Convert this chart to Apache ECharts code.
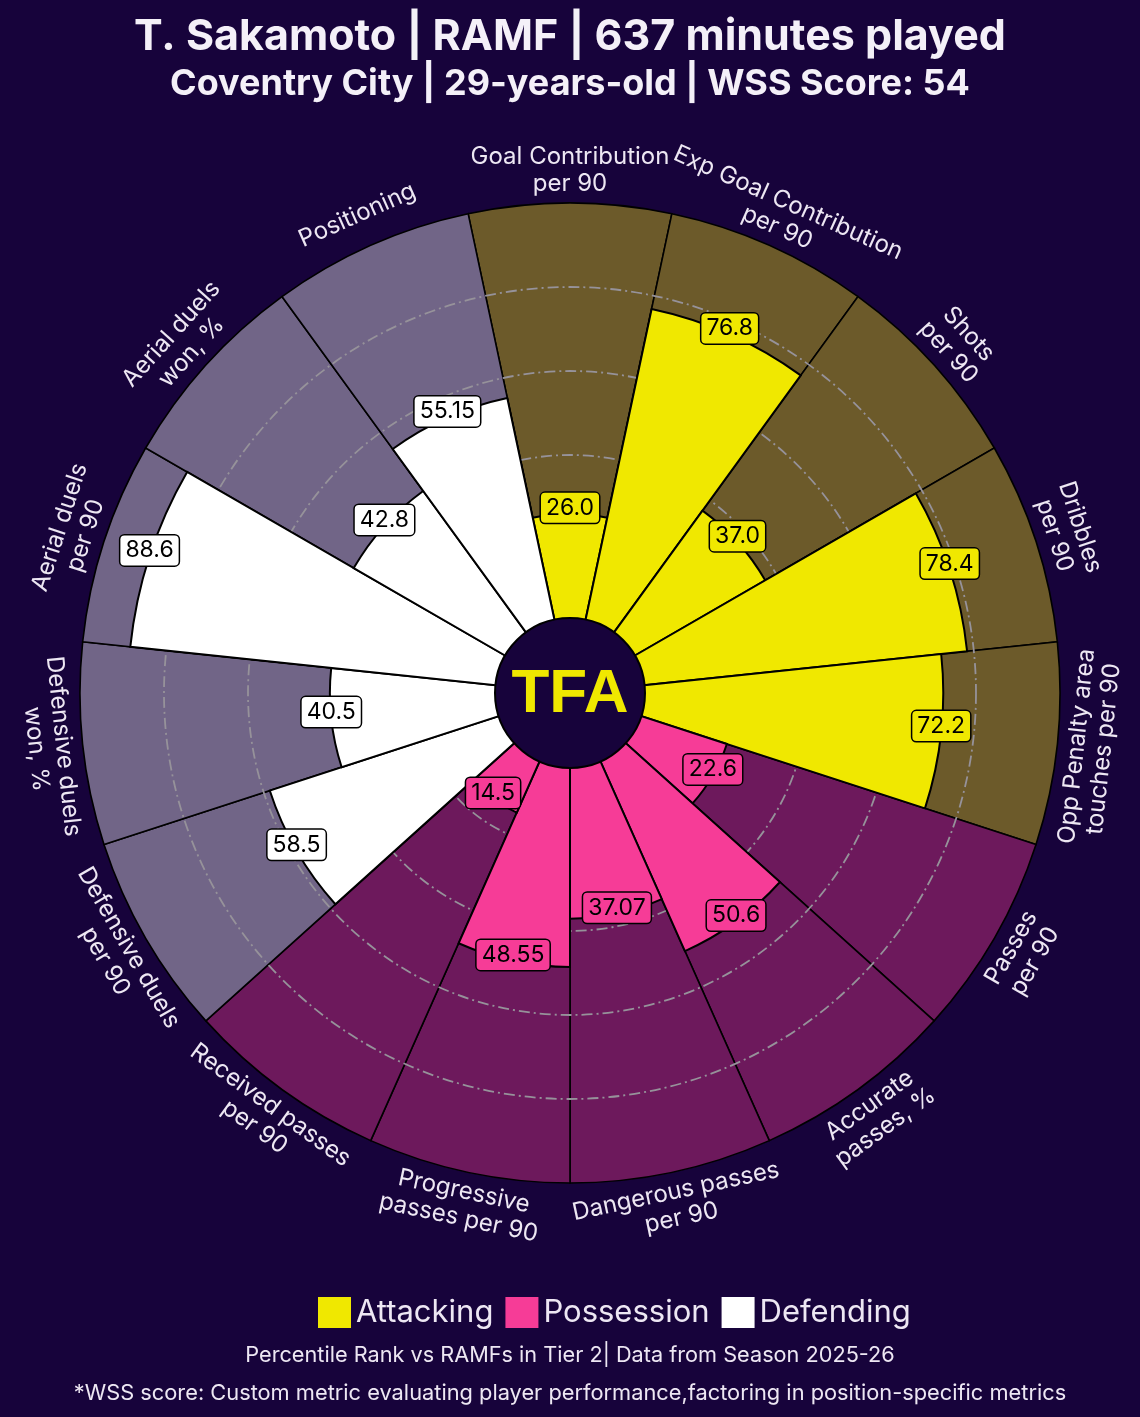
<!DOCTYPE html>
<html><head><meta charset="utf-8">
<script src="https://cdn.jsdelivr.net/npm/echarts@6/dist/echarts.min.js"></script>
<style>html,body{margin:0;padding:0;background:#17033b;} #chart{width:1140px;height:1417px;}</style>
</head><body><div id="chart"></div>
<script>
// ---------------- data ----------------
const categories = [
  'Goal Contribution\nper 90', 'Exp Goal Contribution\nper 90', 'Shots\nper 90', 'Dribbles\nper 90',
  'Opp Penalty area\ntouches per 90', 'Passes\nper 90', 'Accurate\npasses, %', 'Dangerous passes\nper 90',
  'Progressive\npasses per 90', 'Received passes\nper 90', 'Defensive duels\nper 90', 'Defensive duels\nwon, %',
  'Aerial duels\nper 90', 'Aerial duels\nwon, %', 'Positioning'
];
const values = [26.0, 76.8, 37.0, 78.4, 72.2, 22.6, 50.6, 37.07, 48.55, 14.5, 58.5, 40.5, 88.6, 42.8, 55.15];
const valueLabels = ['26.0','76.8','37.0','78.4','72.2','22.6','50.6','37.07','48.55','14.5','58.5','40.5','88.6','42.8','55.15'];
const groups = ['Attacking','Attacking','Attacking','Attacking','Attacking',
  'Possession','Possession','Possession','Possession','Possession',
  'Defending','Defending','Defending','Defending','Defending'];
const groupNames = ['Attacking', 'Possession', 'Defending'];
const gridTicks = [20, 40, 60, 80];
const scaleMax = 100;

// ---------------- style ----------------
const barColors = {Attacking: '#f0e800', Possession: '#f63c97', Defending: '#ffffff'};
const bgColors = {Attacking: '#6c5a2a', Possession: '#6d195c', Defending: '#716587'};
const BG = '#17033b';
const TXT = '#ede7f3';
const CX = 570, CY = 693, R0 = 70, R1 = 490, LABEL_GAP = 33, HOLE = 75;
const FONT = 'Inter, "Open Sans", sans-serif';

const chart = echarts.init(document.getElementById('chart'), null, {renderer: 'canvas'});

function dirOf(api, idx) {
  const p0 = api.coord([0, idx]);
  const p1 = api.coord([scaleMax, idx]);
  const dx = p1[0] - p0[0], dy = p1[1] - p0[1];
  const len = Math.hypot(dx, dy);
  return {ux: dx / len, uy: dy / len, rOuter: Math.hypot(p1[0] - CX, p1[1] - CY)};
}

const series = [];
// background slices
series.push({
  type: 'bar', coordinateSystem: 'polar', polarIndex: 0, z: 1, silent: true,
  barCategoryGap: '0%', barGap: '-100%',
  data: categories.map((c, i) => ({value: scaleMax, itemStyle: {color: bgColors[groups[i]]}})),
  itemStyle: {borderColor: '#000', borderWidth: 1.6}
});
// dash-dot grid circles
series.push({
  type: 'custom', coordinateSystem: 'polar', polarIndex: 0, z: 2, silent: true,
  data: gridTicks.map(v => [v, 0]),
  renderItem: function (params, api) {
    const p = api.coord([api.value(0), 0]);
    const r = Math.hypot(p[0] - CX, p[1] - CY);
    return {type: 'circle', shape: {cx: CX, cy: CY, r: r},
      style: {fill: null, stroke: '#96929a', lineWidth: 1.8, lineDash: [11, 4, 2, 4]}};
  }
});
// foreground bars per group
groupNames.forEach(g => {
  series.push({
    name: g, type: 'bar', coordinateSystem: 'polar', polarIndex: 0, z: 3,
    barCategoryGap: '0%', barGap: '-100%',
    data: values.map((v, i) => groups[i] === g ? v : '-'),
    itemStyle: {color: barColors[g], borderColor: '#000', borderWidth: 2}
  });
});
// value labels
series.push({
  type: 'custom', coordinateSystem: 'polar', polarIndex: 0, z: 5, silent: true,
  data: values.map((v, i) => [v, i]),
  renderItem: function (params, api) {
    const i = params.dataIndex;
    const p = api.coord([api.value(0), i]);
    return {type: 'text', x: p[0], y: p[1] - 6,
      style: {text: valueLabels[i], fill: '#000', font: '23px ' + FONT,
        align: 'center', verticalAlign: 'middle',
        backgroundColor: barColors[groups[i]], borderColor: '#000', borderWidth: 1.5,
        borderRadius: 4, padding: [4, 5, 3, 5]}};
  }
});
// category labels
series.push({
  type: 'custom', coordinateSystem: 'polar', polarIndex: 0, z: 5, silent: true,
  data: categories.map((c, i) => [scaleMax, i]),
  renderItem: function (params, api) {
    const i = params.dataIndex;
    const d = dirOf(api, i);
    const r = d.rOuter + LABEL_GAP;
    const x = CX + d.ux * r, y = CY + d.uy * r;
    let theta = Math.atan2(-d.uy, d.ux) * 180 / Math.PI;
    let rot = theta > 0.5 ? theta - 90 : theta + 90;
    return {type: 'text', x: x, y: y, rotation: rot * Math.PI / 180,
      style: {text: categories[i], fill: TXT, font: '24px ' + FONT, lineHeight: 27,
        align: 'center', verticalAlign: 'middle'}};
  }
});

const option = {
  backgroundColor: BG,
  animation: false,
  title: [
    {text: 'T. Sakamoto | RAMF | 637 minutes played', left: 'center', top: 11,
      textStyle: {color: '#f4f0f8', fontSize: 43, fontWeight: 'bold', fontFamily: FONT}},
    {text: 'Coventry City | 29-years-old | WSS Score: 54', left: 'center', top: 61,
      textStyle: {color: '#f4f0f8', fontSize: 36, fontWeight: 'bold', fontFamily: FONT}},
    {text: 'Percentile Rank vs RAMFs in Tier 2| Data from Season 2025-26', left: 'center', top: 1339,
      textStyle: {color: TXT, fontSize: 21.7, fontWeight: 'normal', fontFamily: FONT}},
    {text: '*WSS score: Custom metric evaluating player performance,factoring in position-specific metrics', left: 'center', top: 1377,
      textStyle: {color: TXT, fontSize: 21.8, fontWeight: 'normal', fontFamily: FONT}}
  ],
  legend: {
    data: groupNames, top: 1292, left: 313, icon: 'rect', itemWidth: 33, itemHeight: 31,
    itemGap: 12, selectedMode: false,
    itemStyle: {borderWidth: 0},
    textStyle: {color: TXT, fontSize: 31, fontFamily: FONT}
  },
  polar: [{center: [CX, CY], radius: [R0, R1]}],
  angleAxis: [{polarIndex: 0, type: 'category', data: categories, startAngle: 102, clockwise: true,
    axisLine: {show: false}, axisTick: {show: false}, axisLabel: {show: false}, splitLine: {show: false}}],
  radiusAxis: [{polarIndex: 0, type: 'value', min: 0, max: scaleMax,
    axisLine: {show: false}, axisTick: {show: false}, axisLabel: {show: false}, splitLine: {show: false}}],
  graphic: [
    {type: 'circle', z: 100, shape: {cx: CX, cy: CY, r: HOLE}, style: {fill: BG, stroke: '#000', lineWidth: 2}},
    {type: 'text', z: 101, x: CX, y: CY + 2, style: {text: 'TFA', fill: '#f0e800',
      font: 'bold 62px "Liberation Sans", Arial, sans-serif', align: 'center', verticalAlign: 'middle'}}
  ],
  series: series
};
chart.setOption(option);
</script>
</body></html>
